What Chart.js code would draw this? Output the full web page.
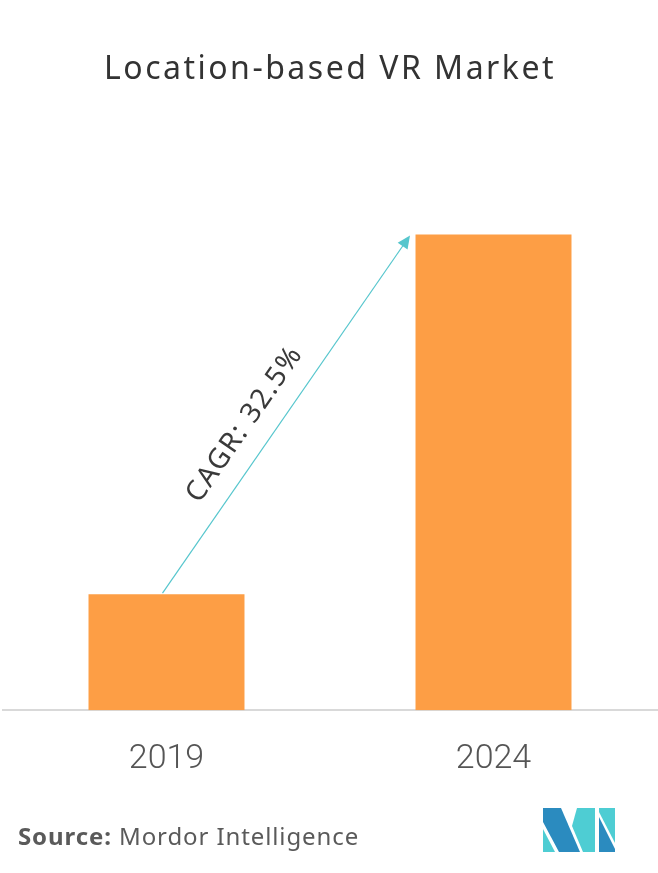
<!DOCTYPE html>
<html>
<head>
<meta charset="utf-8">
<script src="https://cdn.jsdelivr.net/npm/chart.js@4/dist/chart.umd.min.js"></script>
<style>
  html, body { margin: 0; padding: 0; background: #fff; }
  #wrap { width: 658px; height: 873px; position: relative; }
</style>
</head>
<body>
<div id="wrap"><canvas id="chart" width="658" height="873"></canvas></div>
<script>
// data (relative market size, no axis shown)
const years = ['2019', '2024'];
const marketSize = [1.0, 4.1];
const titleText = 'Location-based VR Market';
const cagrLabel = 'CAGR: 32.5%';
const sourceBold = 'Source:';
const sourceText = ' Mordor Intelligence';

const ORANGE = '#fd9e45';
const TEAL = '#56c6cd';
const TEXT_FONT = '"Noto Sans"';

// title drawn by hand so the letter spacing can be widened a bit
const titlePlugin = {
  id: 'titlePlugin',
  afterDraw(chart) {
    const ctx = chart.ctx;
    ctx.save();
    ctx.font = '32px ' + TEXT_FONT;
    ctx.letterSpacing = '2.5px';
    ctx.fillStyle = '#333333';
    ctx.textAlign = 'center';
    ctx.textBaseline = 'alphabetic';
    ctx.fillText(titleText, chart.width / 2 + 1, 79);
    ctx.restore();
  }
};

// arrow from the first bar to the last one, with the CAGR text along it
const cagrArrow = {
  id: 'cagrArrow',
  afterDatasetsDraw(chart) {
    const ctx = chart.ctx;
    const bars = chart.getDatasetMeta(0).data;
    const b0 = bars[0], b1 = bars[bars.length - 1];
    const x0 = b0.x - 4, y0 = b0.y - 1;
    const x1 = b1.x - b1.width / 2 - 5.5, y1 = b1.y + 1;
    const ang = Math.atan2(y1 - y0, x1 - x0);
    const len = 13, hw = 6;

    ctx.save();
    ctx.strokeStyle = TEAL;
    ctx.fillStyle = TEAL;
    ctx.lineWidth = 1.2;
    ctx.beginPath();
    ctx.moveTo(x0, y0);
    ctx.lineTo(x1 - Math.cos(ang) * len * 0.8, y1 - Math.sin(ang) * len * 0.8);
    ctx.stroke();
    ctx.beginPath();
    ctx.moveTo(x1, y1);
    ctx.lineTo(x1 - Math.cos(ang) * len - Math.sin(ang) * hw, y1 - Math.sin(ang) * len + Math.cos(ang) * hw);
    ctx.lineTo(x1 - Math.cos(ang) * len + Math.sin(ang) * hw, y1 - Math.sin(ang) * len - Math.cos(ang) * hw);
    ctx.closePath();
    ctx.fill();

    // text sits a bit below the middle, on the upper-left side of the arrow
    const ux = Math.cos(ang), uy = Math.sin(ang);
    const nx = uy, ny = -ux; // normal pointing up-left
    const mx = (x0 + x1) / 2, my = (y0 + y1) / 2;
    const tx = mx - 31.8 * ux + 28.5 * nx;
    const ty = my - 31.8 * uy + 28.5 * ny;
    ctx.translate(tx, ty);
    ctx.rotate(ang);
    ctx.fillStyle = '#3a3a3a';
    ctx.font = '28px ' + TEXT_FONT;
    ctx.letterSpacing = '1.5px';
    ctx.textAlign = 'center';
    ctx.textBaseline = 'middle';
    ctx.fillText(cagrLabel, 0, 0);
    ctx.restore();
  }
};

// footer: source line and logo
const footer = {
  id: 'footer',
  afterDraw(chart) {
    const ctx = chart.ctx;
    ctx.save();
    ctx.textBaseline = 'alphabetic';
    ctx.textAlign = 'left';
    ctx.fillStyle = '#5a5a5a';
    ctx.letterSpacing = '0.9px';
    ctx.font = 'bold 24px ' + TEXT_FONT;
    ctx.fillText(sourceBold, 18, 845);
    const w = ctx.measureText(sourceBold).width;
    ctx.font = '24px ' + TEXT_FONT;
    ctx.fillText(sourceText, 18 + w, 845);

    // logo
    const poly = (pts, c) => {
      ctx.fillStyle = c;
      ctx.beginPath();
      ctx.moveTo(pts[0][0], pts[0][1]);
      for (let i = 1; i < pts.length; i++) ctx.lineTo(pts[i][0], pts[i][1]);
      ctx.closePath();
      ctx.fill();
    };
    const dark = '#2b8bbf', light = '#4ecdd3';
    poly([[543, 829], [555, 852], [543, 852]], light);
    poly([[543, 808], [561, 808], [580, 852], [559, 852], [543, 822]], dark);
    poly([[577, 808], [595, 808], [595, 852], [583, 852], [572, 826]], light);
    poly([[599, 808], [615, 808], [615, 843], [599, 812]], light);
    poly([[599, 817], [615, 849], [615, 852], [599, 852]], dark);
    ctx.restore();
  }
};

new Chart(document.getElementById('chart'), {
  type: 'bar',
  data: {
    labels: years,
    datasets: [{
      data: marketSize,
      backgroundColor: ORANGE,
      borderWidth: 0,
      barPercentage: 0.477,
      categoryPercentage: 1.0
    }]
  },
  options: {
    responsive: false,
    animation: false,
    layout: { padding: { left: 3, right: 1, top: 130, bottom: 64 } },
    plugins: {
      legend: { display: false },
      tooltip: { enabled: false },
      title: { display: false }
    },
    scales: {
      x: {
        grid: { display: false, drawTicks: false },
        border: { display: true, color: '#d9d9d9', width: 2 },
        ticks: {
          color: '#555555',
          padding: 29,
          font: { family: 'Roboto', size: 34, weight: '300' }
        }
      },
      y: {
        display: false,
        min: 0,
        max: 5
      }
    }
  },
  plugins: [cagrArrow, footer, titlePlugin]
});
</script>
</body>
</html>
